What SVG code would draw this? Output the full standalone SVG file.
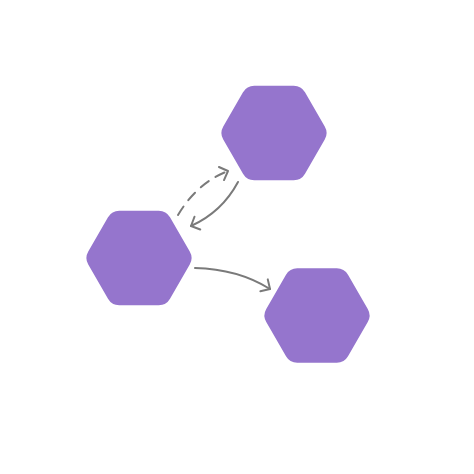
<svg xmlns="http://www.w3.org/2000/svg" width="474" height="474" viewBox="0 0 474 474">
  <style>
    .hex { fill: #9575CD; }
    .edge { fill: none; stroke: #7a7a7a; stroke-width: 2; stroke-linecap: round; }
    .dash { stroke-dasharray: 10 8; }
    .head { fill: none; stroke: #7a7a7a; stroke-width: 2; stroke-linecap: round; stroke-linejoin: round; }
  </style>
  <defs>
    <path id="hexShape" d="M50.75,-6.5 A13,13 0 0 1 50.75,6.5 L31,40.7 A13,13 0 0 1 19.75,47.2 L-19.75,47.2 A13,13 0 0 1 -31,40.7 L-50.75,6.5 A13,13 0 0 1 -50.75,-6.5 L-31,-40.7 A13,13 0 0 1 -19.75,-47.2 L19.75,-47.2 A13,13 0 0 1 31,-40.7 Z"/>
    <marker id="arrow" markerUnits="userSpaceOnUse" markerWidth="20" markerHeight="20" refX="10" refY="10" orient="auto" overflow="visible">
      <path class="head" d="M3,3 L10,10 L3,17"/>
    </marker>
  </defs>
  <rect width="474" height="474" fill="#ffffff"/>
  <g id="connectors">
    <path class="edge dash" d="M178,215 Q197,183 228,171" marker-end="url(#arrow)"/>
    <path class="edge" d="M238,182 Q222,212 191,226" marker-end="url(#arrow)"/>
    <path class="edge" d="M195,268 Q238,269 270,289" marker-end="url(#arrow)"/>
  </g>
  <g id="node-left">
    <use href="#hexShape" class="hex" transform="translate(139,258)"/>
  </g>
  <g id="node-top">
    <use href="#hexShape" class="hex" transform="translate(274,133)"/>
  </g>
  <g id="node-bottom-right">
    <use href="#hexShape" class="hex" transform="translate(317,315.5)"/>
  </g>
</svg>
